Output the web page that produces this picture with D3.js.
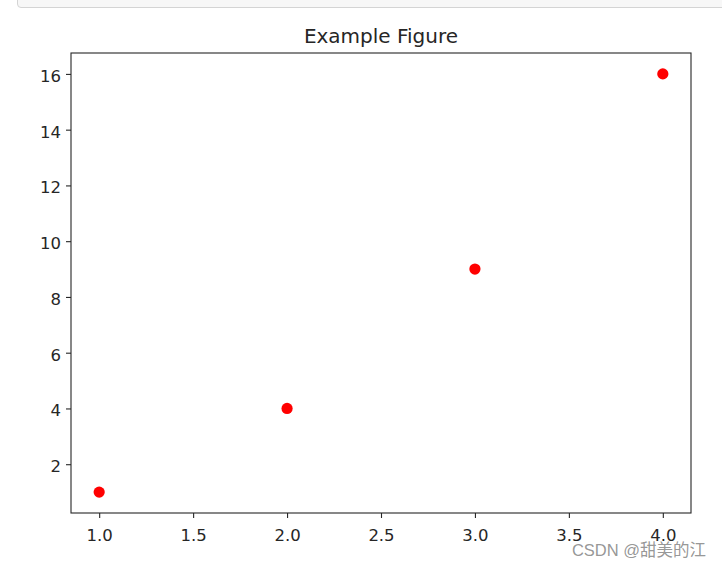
<!DOCTYPE html>
<html>
<head>
<meta charset="utf-8">
<script src="https://cdn.jsdelivr.net/npm/d3@7"></script>
<style>
  html, body { margin: 0; padding: 0; background: #fff; }
  svg { display: block; }
</style>
</head>
<body>
<svg id="chart" width="722" height="568"></svg>
<script>
const title = "Example Figure";
const xValues = [1, 2, 3, 4];
const yValues = [1, 4, 9, 16];
const xTicks = [1.0, 1.5, 2.0, 2.5, 3.0, 3.5, 4.0];
const yTicks = [2, 4, 6, 8, 10, 12, 14, 16];
const watermark = "CSDN @甜美的江";

(function () {
const svg = d3.select("#chart");
const mLeft = 71, mRight = 691, mTop = 53, mBottom = 513;

// top bar remnant (page chrome)
svg.append("path")
  .attr("d", `M17.5,-1 L17.5,4 Q17.5,7.5 21,7.5 L723,7.5 L723,-1 Z`)
  .attr("fill", "#f7f7f7").attr("stroke", "#d4d4d4").attr("stroke-width", 1);

const pad = (a, b) => { const m = (b - a) * 0.05; return [a - m, b + m]; };
const x = d3.scaleLinear().domain(pad(d3.min(xValues), d3.max(xValues))).range([mLeft, mRight]);
const y = d3.scaleLinear().domain(pad(d3.min(yValues), d3.max(yValues))).range([mBottom, mTop]);

const font = "'DejaVu Sans', sans-serif";

const xAxis = svg.append("g").attr("transform", `translate(0,${mBottom})`)
  .call(d3.axisBottom(x).tickValues(xTicks).tickFormat(d3.format(".1f")).tickSizeInner(5).tickSizeOuter(0).tickPadding(5));
const yAxis = svg.append("g").attr("transform", `translate(${mLeft},0)`)
  .call(d3.axisLeft(y).tickValues(yTicks).tickFormat(d3.format("d")).tickSizeInner(5).tickSizeOuter(0).tickPadding(5));
[xAxis, yAxis].forEach(g => {
  g.select(".domain").remove();
  g.selectAll(".tick line").attr("stroke", "#262626").attr("stroke-width", 1.1);
  g.selectAll(".tick text").attr("fill", "#262626").style("font-family", font).style("font-size", "16.5px");
});
xAxis.selectAll(".tick text").attr("dy", "1.08em");
yAxis.selectAll(".tick text").attr("dy", "0.45em");

svg.append("rect").attr("x", mLeft).attr("y", mTop)
  .attr("width", mRight - mLeft).attr("height", mBottom - mTop)
  .attr("fill", "none").attr("stroke", "#262626").attr("stroke-width", 1.1);

svg.append("g").selectAll("circle").data(xValues.map((v, i) => [v, yValues[i]]))
  .join("circle")
  .attr("cx", d => x(d[0])).attr("cy", d => y(d[1])).attr("r", 5.6)
  .attr("fill", "#ff0000");

svg.append("text").attr("x", (mLeft + mRight) / 2).attr("y", 43)
  .attr("text-anchor", "middle").attr("fill", "#262626")
  .style("font-family", font).style("font-size", "20px").text(title);

svg.append("text").attr("x", 706).attr("y", 556).attr("text-anchor", "end")
  .attr("fill", "#8a8a8a").attr("fill-opacity", 0.9)
  .style("font-family", "'Liberation Sans', 'Noto Sans CJK SC', sans-serif").style("font-size", "16.5px")
  .text(watermark);
})();
</script>
</body>
</html>
